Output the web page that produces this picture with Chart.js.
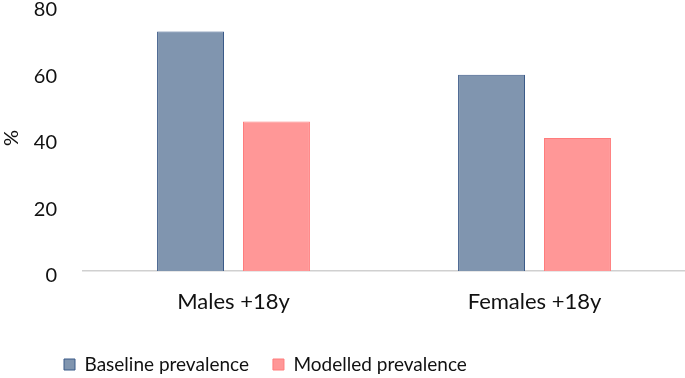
<!DOCTYPE html>
<html>
<head>
<meta charset="utf-8">
<script src="https://cdn.jsdelivr.net/npm/chart.js@4/dist/chart.umd.min.js"></script>
<style>
  html, body { margin: 0; padding: 0; background: #fff; }
  #wrap { width: 685px; height: 378px; }
</style>
</head>
<body>
<div id="wrap"><canvas id="barChart"></canvas></div>
<script>
// Data
const categories = ['Males +18y', 'Females +18y'];
const baselineValues = [72, 59];
const modelledValues = [45, 40];
const seriesNames = ['Baseline prevalence', 'Modelled prevalence'];
const yTicks = [0, 20, 40, 60, 80];

const fontFamily = 'Lato, "Open Sans", sans-serif';

// Legend sits left of centre and a bit lower in the original
const legendShift = {
    id: 'legendShift',
    afterLayout(chart) {
        chart.legend.left = 40;
        chart.legend.top += 6;
    }
};

const ctx = document.getElementById('barChart').getContext('2d');
const myBarChart = new Chart(ctx, {
    type: 'bar',
    data: {
        labels: categories,
        datasets: [{
            label: seriesNames[0],
            data: baselineValues,
            backgroundColor: '#8095af',
            borderColor: '#3b5a88',
            borderWidth: 1,
            categoryPercentage: 0.571,
            barPercentage: 0.779
        }, {
            label: seriesNames[1],
            data: modelledValues,
            backgroundColor: '#ff9797',
            borderColor: '#ff7c7c',
            borderWidth: 1,
            categoryPercentage: 0.571,
            barPercentage: 0.779
        }]
    },
    options: {
        responsive: true,
        maintainAspectRatio: false,
        animation: false,
        layout: { padding: { top: 5, right: 0, left: 0, bottom: 0 } },
        plugins: {
            tooltip: { enabled: false },
            legend: {
                position: 'bottom',
                align: 'start',
                labels: {
                    boxWidth: 11,
                    boxHeight: 11,
                    padding: 24,
                    color: '#111',
                    font: { family: fontFamily, size: 19 }
                }
            }
        },
        scales: {
            x: {
                afterFit(scale) {
                    scale.height = 54;
                },
                grid: { display: false, drawTicks: false },
                border: { display: true, color: '#d0d0d0', width: 1.5 },
                ticks: {
                    color: '#111',
                    padding: 18,
                    font: { family: fontFamily, size: 22 }
                }
            },
            y: {
                min: 0,
                max: 80,
                afterFit(scale) {
                    scale.width = 83;
                    scale.paddingTop = 0;
                    scale.paddingBottom = 0;
                },
                afterBuildTicks(scale) {
                    scale.ticks = yTicks.map(v => ({ value: v }));
                },
                grid: { display: false, drawTicks: false },
                border: { display: false },
                title: {
                    display: true,
                    text: '%',
                    color: '#111',
                    padding: 0,
                    font: { family: fontFamily, size: 20 }
                },
                ticks: {
                    color: '#111',
                    padding: 26,
                    labelOffset: 5,
                    font: { family: fontFamily, size: 20 }
                }
            }
        }
    },
    plugins: [legendShift]
});
</script>
</body>
</html>
